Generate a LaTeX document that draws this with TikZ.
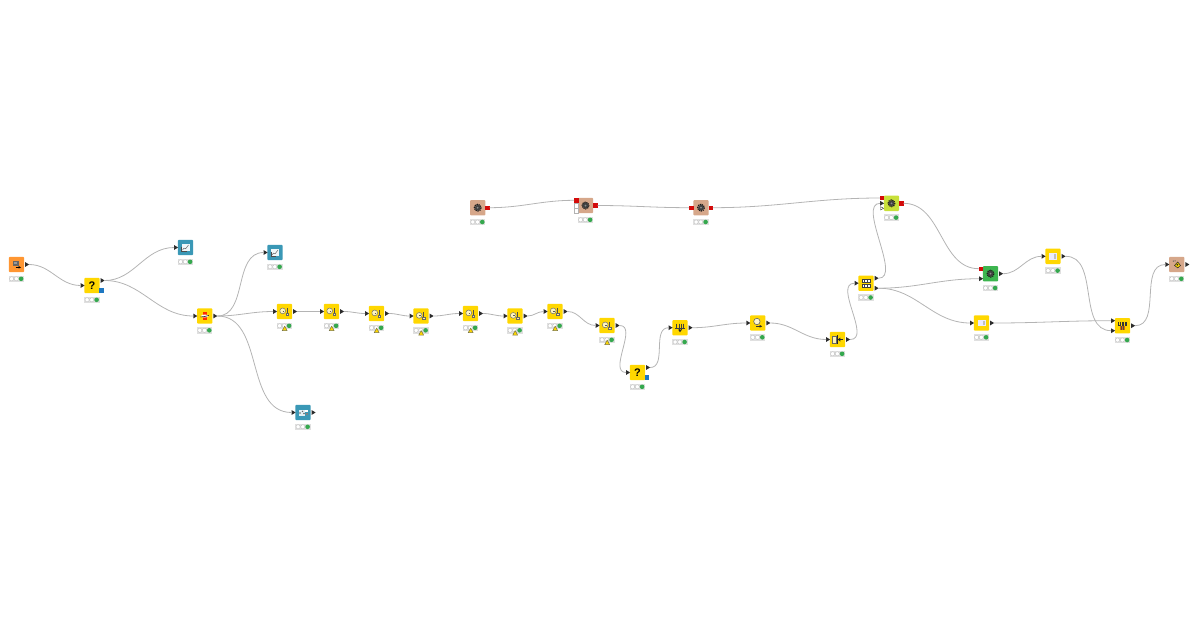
\documentclass[tikz,border=0pt]{standalone}
\usepackage{fontspec}
\setsansfont{Liberation Sans}
\usetikzlibrary{
calc,
shapes.geometric
}
\definecolor{sourceorange}{HTML}{FF9632}
\definecolor{viewteal}{HTML}{3A98B6}
\definecolor{manipyellow}{HTML}{FFD700}
\definecolor{learntan}{HTML}{D6A78A}
\definecolor{limegreen}{HTML}{C8E03A}
\definecolor{predictgreen}{HTML}{3DB54F}
\definecolor{wiregrey}{HTML}{B4B4B4}
\definecolor{darkport}{HTML}{2B2B2B}
\definecolor{portred}{HTML}{D40A0A}
\definecolor{portblue}{HTML}{1E78C2}
\definecolor{lampgreen}{HTML}{35A84E}
\tikzset{
  every node/.style = {
    inner sep = 0pt,
    outer sep = 0pt
  }
}
\begin{document}
\begin{tikzpicture}[
      x=1pt, y=-1pt,
      knode/.style={
        rectangle, rounded corners=1pt,
        minimum size=15.4pt,
      },
      lampbox/.style={
        rectangle, fill=black!12,
        minimum width=15.5pt, minimum height=6.6pt,
      },
      arrowport/.style={
        isosceles triangle, isosceles triangle apex angle=70,
        isosceles triangle stretches,
        minimum width=4.8pt, minimum height=4pt,
        fill=darkport,
      },
      hollowport/.style={
        arrowport, fill=white, draw=darkport, line width=0.4pt,
      },
      squareport/.style={
        rectangle, minimum size=4.4pt,
      },
      wire/.style={
        draw=wiregrey, line width=0.8pt,
      },
      lamps/.pic={
        \fill [white, draw=black!30, line width=0.25pt] (-4.9,0) circle (2.1);
        \fill [white, draw=black!30, line width=0.25pt] (-0.2,0) circle (2.1);
        \fill [lampgreen] (4.6,0) circle (2.3);
      },
      warning/.pic={
        \fill [manipyellow, draw=black!60!yellow, line width=0.5pt, line join=round]
        (-2.5,2.3) -- (0,-2.3) -- (2.5,2.3) -- cycle;
      },
      gearicon/.pic={
        \draw [black!90, line width=1.3pt, dash pattern=on 1.2pt off 0.8pt] (0,0) circle (3.3);
        \fill [black!75] (0,0) circle (2.8);
        \fill [black!45] (0,0) circle (1);
      },
      clockicon/.pic={
        \fill [white!75!manipyellow, draw=black!55, line width=0.5pt] (-1.8,-0.6) circle (2.9);
        \draw [black!65, line width=0.5pt] (-1.8,-0.6) -- (-0.5,-0.6);
        \fill [black!70] (2.1,-4) rectangle (2.9,1);
        \draw [black!60, line width=0.4pt, fill=white!60!manipyellow] (1.3,1.2) rectangle (3.7,3.4);
      },
      readericon/.pic={
        \fill [black!60] (-4,-4) rectangle (2,1.5);
        \fill [white!60!black] (-2.6,-2.6) rectangle (0.6,-0.4);
        \draw [black, line width=0.8pt] (-1,3) -- (3,3);
        \fill [black] (2,1.4) -- (4.6,3) -- (2,4) -- cycle;
      },
      viewicon/.pic={
        \fill [white!92!viewteal] (-3.6,-4) rectangle (4,3.4);
        \draw [black!60, line width=0.5pt] (-3,2.5) -- (-1.5,0.6) -- (0.2,1.2) -- (3,-2.5);
        \draw [black!70, line width=0.5pt] (-4,-1) -- (-4,4) -- (1,4);
      },
      scattericon/.pic={
        \fill [white!85!viewteal] (-4,-3) rectangle (2,3);
        \fill [black!60] (-3,0.5) circle (0.8) (-0.5,-1.2) circle (0.8) (1,1) circle (0.8);
        \fill [white] (2,-3) rectangle (4.5,-0.6);
        \fill [black!50] (2.5,0.5) rectangle (4.5,2.5);
      },
      filtericon/.pic={
        \fill [red!65!orange] (-2,-4) rectangle (2,4.3);
        \fill [white] (0,0) ellipse (3.6 and 1.5);
        \draw [black!85, line width=0.6pt] (-4.2,1) -- (0,0.5) -- (4.2,-0.6);
      },
      forkicon/.pic={
        \draw [black!75, line width=0.6pt] (-3.5,-4) -- (-3.5,1) (-1.2,-4) -- (-1.2,2) (1.2,-4) -- (1.2,2) (3.5,-4) -- (3.5,1);
        \draw [black!75, line width=0.6pt] (-5,0.8) -- (5,0.8);
        \fill [black!85] (-1.8,2) -- (1.8,2) -- (0,4.6) -- cycle;
      },
      lensicon/.pic={
        \fill [white!80!manipyellow, draw=black!60, line width=0.6pt] (-0.8,-1.5) circle (3.2);
        \draw [black!80, line width=0.8pt] (-1.5,3.3) -- (3,3.3);
        \fill [black!85] (2,1.9) -- (4.4,3.3) -- (2,4.6) -- cycle;
      },
      joinicon/.pic={
        \draw [black!60, line width=0.5pt, fill=white!70!manipyellow] (-5,-3.5) rectangle (-1.6,3.5);
        \draw [black!85, line width=0.7pt] (0,-4.5) -- (0,4.5);
        \draw [black!85, line width=0.7pt] (0.3,0) -- (5,0);
        \fill [black!85] (0.3,0) -- (2.8,-2) -- (2.8,2) -- cycle;
      },
      gridicon/.pic={
        \draw [black!75, line width=0.5pt, fill=white] (-4,-4) rectangle (4,-0.8);
        \draw [black!75, line width=0.5pt, fill=white] (-4,0.8) rectangle (4,4);
        \draw [black!75, line width=0.5pt] (-1.3,-4) -- (-1.3,-0.8) (1.3,-4) -- (1.3,-0.8) (-1.3,0.8) -- (-1.3,4) (1.3,0.8) -- (1.3,4);
      },
      sheeticon/.pic={
        \fill [white!92!blue] (-4,-3.3) rectangle (4,3.3);
        \fill [black!25] (1.4,-2.2) rectangle (3,2.2);
      },
      combineicon/.pic={
        \draw [black!80, line width=0.6pt] (-4.2,-3.5) -- (-4.2,0) -- (-2.4,0) -- (-2.4,-3.5) (-0.6,-3.5) -- (-0.6,0) (0.9,-3.5) -- (0.9,0) (2.4,-3.5) -- (2.4,0) -- (4.2,0) -- (4.2,-3.5);
        \fill [orange!85!black] (-2.6,0.4) rectangle (2.6,4);
        \draw [black!70, line width=0.5pt] (-1.2,0.4) -- (-1.2,4) (1.2,0.4) -- (1.2,4);
      },
      modelicon/.pic={
        \fill [manipyellow, draw=black!85, line width=0.5pt] (1,-2.6) -- (3.8,1) -- (1,3.4) -- (-2.2,1) -- cycle;
        \fill [black!65] (-3.8,-4) rectangle (-2.8,-3) (-2,-4.2) rectangle (-1,-3.2);
        \fill [black!85] (0.6,0.2) circle (1);
      },
      ]
      % nodes: name / x / y / colour
      \foreach \nm/\px/\py/\col in {
        reader/16.5/264.5/sourceorange,
        switchA/92/285.5/manipyellow,
        viewA/185.5/247.5/viewteal,
        filter/204.7/316/manipyellow,
        viewB/275/252.5/viewteal,
        viewC/303/412.5/viewteal,
        clockA/284.5/311.5/manipyellow,
        clockB/331.5/311.5/manipyellow,
        clockC/376.5/313.5/manipyellow,
        clockD/421/316/manipyellow,
        clockE/470.5/313.5/manipyellow,
        clockF/515/316/manipyellow,
        clockG/555/311.5/manipyellow,
        clockH/607/325.5/manipyellow,
        switchB/637.5/372.5/manipyellow,
        fork/680/327.7/manipyellow,
        lens/757.7/323/manipyellow,
        join/837.5/339.5/manipyellow,
        grid/866/283.2/manipyellow,
        learnA/477.7/207.7/learntan,
        learnB/585.5/205.5/learntan,
        learnC/701/207.7/learntan,
        learnD/891.5/203.3/limegreen,
        predict/990.5/273.7/predictgreen,
        sheetA/1053/256.3/manipyellow,
        sheetB/981.5/323/manipyellow,
        combine/1122.5/325.7/manipyellow,
        model/1176.7/264.5/learntan%
      } {
        \node [knode, fill=\col] (\nm) at (\px,\py) {};
        \node [lampbox] (\nm-lamp) at ($(\nm)+(0,14.3)$) {};
        \pic at (\nm-lamp) {lamps};
      }
      % data ports, in the middle of each side
      \foreach \nm in {switchA,filter,clockA,clockB,clockC,clockD,clockE,clockF,clockG,clockH,
        switchB,fork,lens,join,grid,sheetA,sheetB,model,viewA,viewB,viewC} {
        \node [arrowport] (\nm-in) at ($(\nm)+(-10,0)$) {};
      }
      \foreach \nm in {reader,filter,viewC,clockA,clockB,clockC,clockD,clockE,clockF,clockG,clockH,
        fork,lens,join,predict,sheetA,sheetB,combine,model} {
        \node [arrowport] (\nm-out) at ($(\nm)+(10,0)$) {};
      }
      \node [arrowport] (switchA-out) at ($(switchA)+(10,-5)$) {};
      \node [arrowport] (switchB-out) at ($(switchB)+(10,-5)$) {};
      \node [arrowport] (grid-outa) at ($(grid)+(10,-5)$) {};
      \node [arrowport] (grid-outb) at ($(grid)+(10,5)$) {};
      \node [arrowport] (learnD-in) at ($(learnD)+(-10,0)$) {};
      \node [hollowport, minimum width=3.4pt, minimum height=3pt] (learnD-inb) at ($(learnD)+(-10,5)$) {};
      \node [arrowport] (predict-in) at ($(predict)+(-10,5)$) {};
      \node [arrowport] (combine-ina) at ($(combine)+(-10,-5)$) {};
      \node [arrowport] (combine-inb) at ($(combine)+(-10,5)$) {};
      % model ports
      \node [squareport, fill=portred] (learnA-out) at ($(learnA)+(9.6,0)$) {};
      \node [squareport, fill=portred] (learnB-in) at ($(learnB)+(-9.2,-5.2)$) {};
      \node [squareport, fill=white, draw=black!30, line width=0.3pt] (learnB-inb) at ($(learnB)+(-9.2,0)$) {};
      \node [squareport, fill=white, draw=black!30, line width=0.3pt] (learnB-inc) at ($(learnB)+(-9.2,5)$) {};
      \node [squareport, fill=portred] (learnB-out) at ($(learnB)+(9.8,0)$) {};
      \node [squareport, fill=portred] (learnC-in) at ($(learnC)+(-9.7,0)$) {};
      \node [squareport, fill=portred] (learnC-out) at ($(learnC)+(9.7,0)$) {};
      \node [squareport, fill=portred] (learnD-red) at ($(learnD)+(-9.5,-5.3)$) {};
      \node [squareport, fill=portred] (learnD-out) at ($(learnD)+(9.8,0)$) {};
      \node [squareport, fill=portred] (predict-red) at ($(predict)+(-9.5,-5)$) {};
      \node [squareport, fill=portblue] (switchA-var) at ($(switchA)+(9.3,5)$) {};
      \node [squareport, fill=portblue] (switchB-var) at ($(switchB)+(9.5,5)$) {};
      % wires
      \draw [wire] (reader-out) to [out=0, in=180] (switchA-in);
      \draw [wire] (switchA-out) to [out=0, in=180] (viewA-in);
      \draw [wire] (switchA-out) to [out=0, in=180] (filter-in);
      \draw [wire] (filter-out) to [out=0, in=180] (viewB-in);
      \draw [wire] (filter-out) to [out=0, in=180] (clockA-in);
      \draw [wire] (filter-out) to [out=0, in=180] (viewC-in);
      \draw [wire] (clockA-out) to [out=0, in=180] (clockB-in);
      \draw [wire] (clockB-out) to [out=0, in=180] (clockC-in);
      \draw [wire] (clockC-out) to [out=0, in=180] (clockD-in);
      \draw [wire] (clockD-out) to [out=0, in=180] (clockE-in);
      \draw [wire] (clockE-out) to [out=0, in=180] (clockF-in);
      \draw [wire] (clockF-out) to [out=0, in=180] (clockG-in);
      \draw [wire] (clockG-out) to [out=0, in=180] (clockH-in);
      \draw [wire] (clockH-out) to [out=0, in=180] (switchB-in);
      \draw [wire] (switchB-out) to [out=0, in=180] (fork-in);
      \draw [wire] (fork-out) to [out=0, in=180] (lens-in);
      \draw [wire] (lens-out) to [out=0, in=180] (join-in);
      \draw [wire] (join-out) to [out=0, in=180] (grid-in);
      \draw [wire] (grid-outa) to [out=0, in=180, looseness=0.8] (learnD-in);
      \draw [wire] (grid-outb) to [out=0, in=180] (predict-in);
      \draw [wire] (grid-outb) to [out=0, in=180] (sheetB-in);
      \draw [wire] (learnA-out) to [out=0, in=180] (learnB-in);
      \draw [wire] (learnB-out) to [out=0, in=180] (learnC-in);
      \draw [wire] (learnC-out) to [out=0, in=180] (learnD-red);
      \draw [wire] (learnD-out) to [out=0, in=180] (predict-red);
      \draw [wire] (predict-out) to [out=0, in=180] (sheetA-in);
      \draw [wire] (sheetA-out) to [out=0, in=180] (combine-inb);
      \draw [wire] (sheetB-out) to [out=0, in=180] (combine-ina);
      \draw [wire] (combine-out) to [out=0, in=180] (model-in);
      % icons
      \pic at (reader) {readericon};
      \pic at (viewA) {viewicon};
      \pic at (viewB) {viewicon};
      \pic at (viewC) {scattericon};
      \pic at (filter) {filtericon};
      \foreach \nm in {clockA,clockB,clockC,clockD,clockE,clockF,clockG,clockH} {
        \pic at (\nm) {clockicon};
        \pic at ($(\nm-lamp)+(0.2,2.6)$) {warning};
      }
      \pic at (fork) {forkicon};
      \pic at (lens) {lensicon};
      \pic at (join) {joinicon};
      \pic at (grid) {gridicon};
      \foreach \nm in {learnA,learnB,learnC,learnD,predict} {
        \pic at (\nm) {gearicon};
      }
      \pic at (sheetA) {sheeticon};
      \pic at (sheetB) {sheeticon};
      \pic at (combine) {combineicon};
      \pic at (model) {modelicon};
      \node [font=\sffamily\bfseries\fontsize{11pt}{11pt}\selectfont] (switchA-mark) at (switchA) {?};
      \node [font=\sffamily\bfseries\fontsize{11pt}{11pt}\selectfont] (switchB-mark) at (switchB) {?};
      \useasboundingbox (0,0) rectangle (1200,630);
    \end{tikzpicture}
\end{document}
